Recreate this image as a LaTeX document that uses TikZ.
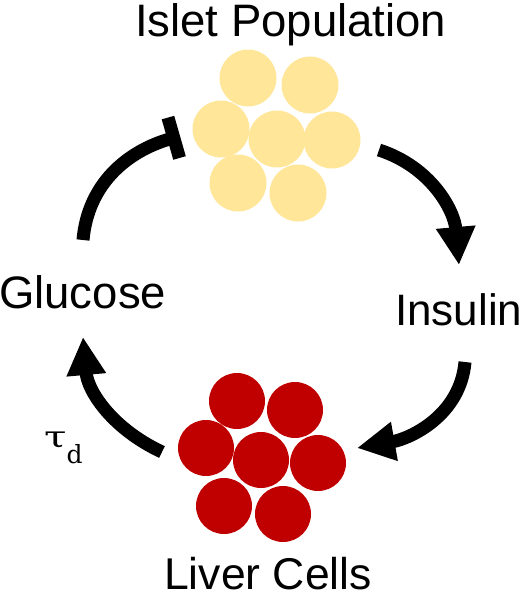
\documentclass[tikz,border=0pt]{standalone}
\usepackage{fontspec}
\setmainfont{Liberation Sans}
\newfontfamily\delayfont{DejaVu Serif}
\usetikzlibrary{arrows.meta}
\definecolor{isletyellow}{HTML}{FFE699}
\definecolor{liverred}{HTML}{C00000}

\begin{document}
\begin{tikzpicture}[x=1pt, y=1pt,
    isletcell/.style ={circle, fill=isletyellow, minimum size=57pt, inner sep=0pt},
    livercell/.style ={circle, fill=liverred, minimum size=56pt, inner sep=0pt},
    caption/.style ={anchor=base west, inner sep=0pt, font=\fontsize{45.5}{50}\selectfont},
    flow/.style ={line width=13pt, -{Triangle[length=38pt, width=37pt]}},
    block/.style ={line width=13pt, -{Bar[width=42pt]}}]
   \useasboundingbox (0,0) rectangle (527,-598);

   % islet population
   \node[isletcell] (I1) at (248,-78)  {};
   \node[isletcell] (I2) at (310,-85)  {};
   \node[isletcell] (I3) at (221,-129) {};
   \node[isletcell] (I4) at (277,-139) {};
   \node[isletcell] (I5) at (332,-140) {};
   \node[isletcell] (I6) at (238,-183) {};
   \node[isletcell] (I7) at (298,-193) {};

   % liver cells
   \node[livercell] (L1) at (237,-401) {};
   \node[livercell] (L2) at (295,-410) {};
   \node[livercell] (L3) at (206,-448) {};
   \node[livercell] (L4) at (261,-460) {};
   \node[livercell] (L5) at (318,-463) {};
   \node[livercell] (L6) at (224,-506) {};
   \node[livercell] (L7) at (283,-514) {};

   \node[caption] (islet)   at (135,-36)  {Islet Population};
   \node[caption] (glucose) at (-1,-308)  {Glucose};
   \node[caption, font=\fontsize{44}{50}\selectfont] (insulin) at (395,-325) {Insulin};
   \node[caption, font=\fontsize{44.5}{50}\selectfont] (liver) at (164,-589) {Liver Cells};
   \node[caption, font=\delayfont\fontsize{30}{34}\selectfont] (delay) at (44,-447)
      {\scalebox{1.35}[1]{τ}\raisebox{-16pt}{\fontsize{25}{27}\selectfont d}};

   \coordinate (G1) at (83,-240);
   \coordinate (G2) at (180,-136);
   \coordinate (S1) at (379,-150);
   \coordinate (S2) at (459,-265);
   \coordinate (S3) at (465,-362);
   \coordinate (S4) at (357,-448);
   \coordinate (D1) at (162,-452);
   \coordinate (D2) at (83,-337);

   \draw[block] (G1) to[out=85, in=196]  (G2);
   \draw[flow]  (S1) to[out=-18, in=95]  (S2);
   \draw[flow]  (S3) to[out=-95, in=10]  (S4);
   \draw[flow]  (D1) to[out=155, in=-85] (D2);
\end{tikzpicture}
\end{document}
